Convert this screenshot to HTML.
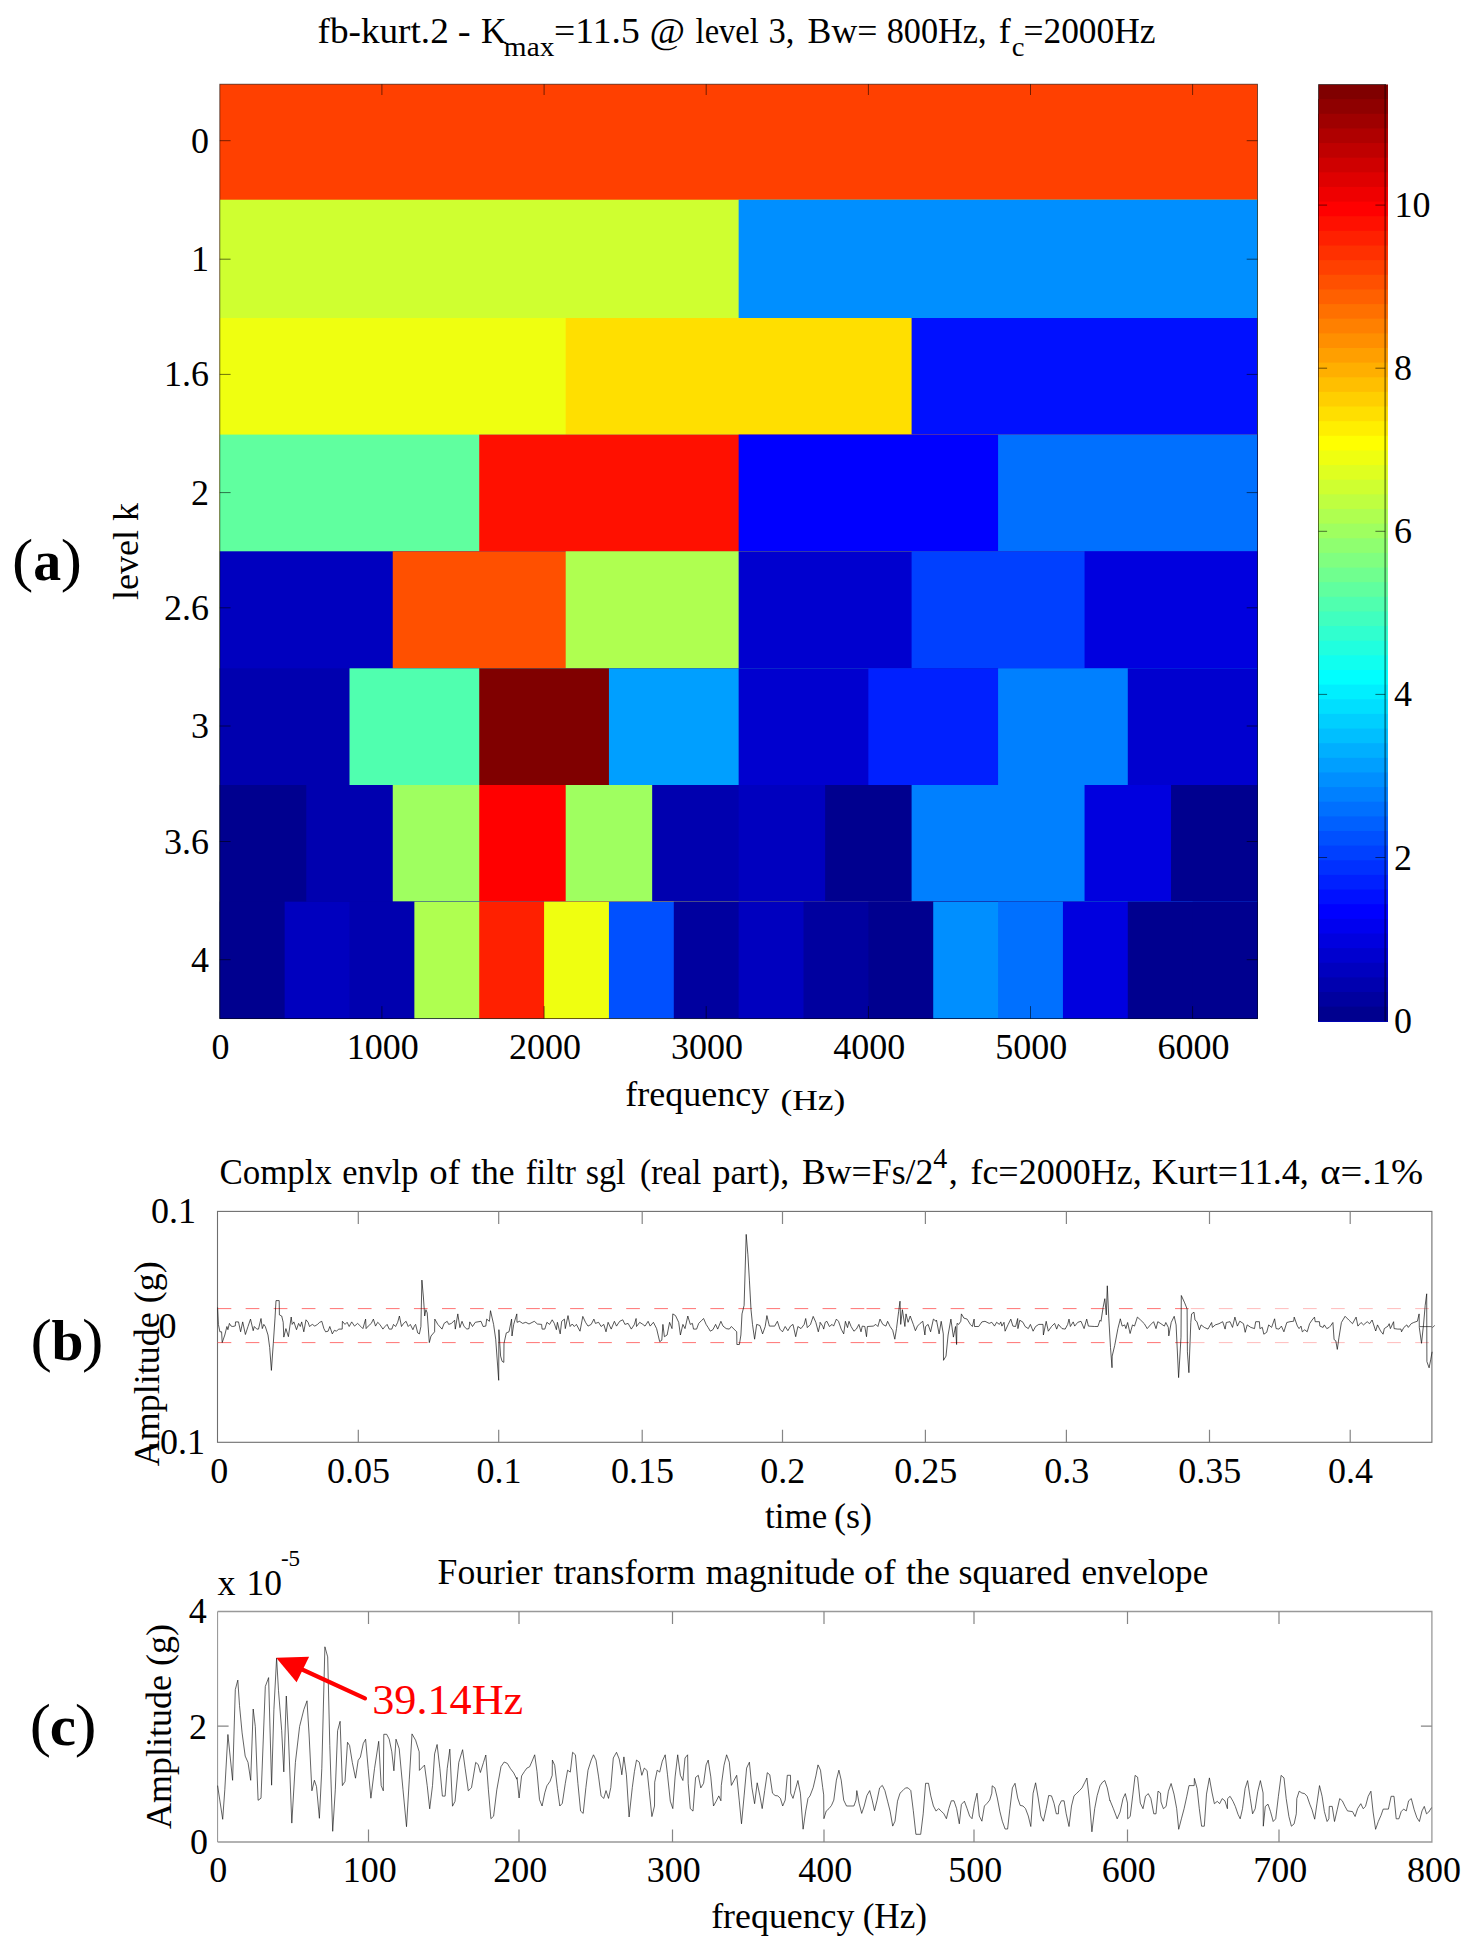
<!DOCTYPE html>
<html lang="en"><head><meta charset="utf-8"><title>Fast kurtogram</title>
<style>html,body{margin:0;padding:0;background:#fff}svg{display:block}text{font-family:"Liberation Serif","Times New Roman",serif;fill:#000}</style></head><body>
<svg width="1470" height="1953" viewBox="0 0 1470 1953">
<rect width="1470" height="1953" fill="#fff"/>
<g id="heat">
<rect x="219.80" y="84.20" width="1037.70" height="934.40" fill="#ff4000"/>
<rect x="219.80" y="199.70" width="1037.70" height="818.90" fill="#cfff30"/>
<rect x="738.65" y="199.70" width="518.85" height="818.90" fill="#008fff"/>
<rect x="219.80" y="318.00" width="1037.70" height="700.60" fill="#efff10"/>
<rect x="565.70" y="318.00" width="691.80" height="700.60" fill="#ffdf00"/>
<rect x="911.60" y="318.00" width="345.90" height="700.60" fill="#0010ff"/>
<rect x="219.80" y="434.60" width="1037.70" height="584.00" fill="#60ff9f"/>
<rect x="479.23" y="434.60" width="778.27" height="584.00" fill="#ff1000"/>
<rect x="738.65" y="434.60" width="518.85" height="584.00" fill="#0000ff"/>
<rect x="998.08" y="434.60" width="259.42" height="584.00" fill="#0070ff"/>
<rect x="219.80" y="551.30" width="1037.70" height="467.30" fill="#0000bf"/>
<rect x="392.75" y="551.30" width="864.75" height="467.30" fill="#ff5000"/>
<rect x="565.70" y="551.30" width="691.80" height="467.30" fill="#afff50"/>
<rect x="738.65" y="551.30" width="518.85" height="467.30" fill="#0000cf"/>
<rect x="911.60" y="551.30" width="345.90" height="467.30" fill="#0040ff"/>
<rect x="1084.55" y="551.30" width="172.95" height="467.30" fill="#0000df"/>
<rect x="219.80" y="668.30" width="1037.70" height="350.30" fill="#0000af"/>
<rect x="349.51" y="668.30" width="907.99" height="350.30" fill="#50ffaf"/>
<rect x="479.23" y="668.30" width="778.27" height="350.30" fill="#800000"/>
<rect x="608.94" y="668.30" width="648.56" height="350.30" fill="#009fff"/>
<rect x="738.65" y="668.30" width="518.85" height="350.30" fill="#0000cf"/>
<rect x="868.36" y="668.30" width="389.14" height="350.30" fill="#0020ff"/>
<rect x="998.08" y="668.30" width="259.42" height="350.30" fill="#0080ff"/>
<rect x="1127.79" y="668.30" width="129.71" height="350.30" fill="#0000cf"/>
<rect x="219.80" y="785.00" width="1037.70" height="233.60" fill="#00008f"/>
<rect x="306.28" y="785.00" width="951.22" height="233.60" fill="#0000af"/>
<rect x="392.75" y="785.00" width="864.75" height="233.60" fill="#9fff60"/>
<rect x="479.23" y="785.00" width="778.27" height="233.60" fill="#ff0000"/>
<rect x="565.70" y="785.00" width="691.80" height="233.60" fill="#9fff60"/>
<rect x="652.17" y="785.00" width="605.33" height="233.60" fill="#0000af"/>
<rect x="738.65" y="785.00" width="518.85" height="233.60" fill="#0000bf"/>
<rect x="825.12" y="785.00" width="432.38" height="233.60" fill="#00008f"/>
<rect x="911.60" y="785.00" width="345.90" height="233.60" fill="#0080ff"/>
<rect x="998.08" y="785.00" width="259.42" height="233.60" fill="#0080ff"/>
<rect x="1084.55" y="785.00" width="172.95" height="233.60" fill="#0000df"/>
<rect x="1171.03" y="785.00" width="86.47" height="233.60" fill="#00008f"/>
<rect x="219.80" y="901.70" width="1037.70" height="116.90" fill="#00008f"/>
<rect x="284.66" y="901.70" width="972.84" height="116.90" fill="#0000bf"/>
<rect x="349.51" y="901.70" width="907.99" height="116.90" fill="#0000af"/>
<rect x="414.37" y="901.70" width="843.13" height="116.90" fill="#afff50"/>
<rect x="479.23" y="901.70" width="778.27" height="116.90" fill="#ff2000"/>
<rect x="544.08" y="901.70" width="713.42" height="116.90" fill="#efff10"/>
<rect x="608.94" y="901.70" width="648.56" height="116.90" fill="#0050ff"/>
<rect x="673.79" y="901.70" width="583.71" height="116.90" fill="#00009f"/>
<rect x="738.65" y="901.70" width="518.85" height="116.90" fill="#0000bf"/>
<rect x="803.51" y="901.70" width="453.99" height="116.90" fill="#00009f"/>
<rect x="868.36" y="901.70" width="389.14" height="116.90" fill="#00008f"/>
<rect x="933.22" y="901.70" width="324.28" height="116.90" fill="#008fff"/>
<rect x="998.08" y="901.70" width="259.42" height="116.90" fill="#0070ff"/>
<rect x="1062.93" y="901.70" width="194.57" height="116.90" fill="#0000df"/>
<rect x="1127.79" y="901.70" width="129.71" height="116.90" fill="#00008f"/>
<rect x="1192.64" y="901.70" width="64.86" height="116.90" fill="#00008f"/>
</g>
<g stroke="#000" stroke-opacity="0.62" stroke-width="0.9" fill="none">
<rect x="219.8" y="84.2" width="1037.7" height="934.4"/>
<path d="M381.9 1018.6v-12.5M381.9 84.2v10.8"/>
<path d="M544.1 1018.6v-12.5M544.1 84.2v10.8"/>
<path d="M706.2 1018.6v-12.5M706.2 84.2v10.8"/>
<path d="M868.4 1018.6v-12.5M868.4 84.2v10.8"/>
<path d="M1030.5 1018.6v-12.5M1030.5 84.2v10.8"/>
<path d="M1192.6 1018.6v-12.5M1192.6 84.2v10.8"/>
<path d="M219.8 140.7h10.8M1257.5 140.7h-10.8"/>
<path d="M219.8 259.2h10.8M1257.5 259.2h-10.8"/>
<path d="M219.8 374.4h10.8M1257.5 374.4h-10.8"/>
<path d="M219.8 492.6h10.8M1257.5 492.6h-10.8"/>
<path d="M219.8 607.8h10.8M1257.5 607.8h-10.8"/>
<path d="M219.8 726.0h10.8M1257.5 726.0h-10.8"/>
<path d="M219.8 841.5h10.8M1257.5 841.5h-10.8"/>
<path d="M219.8 959.7h10.8M1257.5 959.7h-10.8"/>
</g>
<g id="cbar">
<rect x="1318.5" y="84.50" width="69.5" height="936.80" fill="#800000"/>
<rect x="1318.5" y="99.14" width="69.5" height="922.16" fill="#8f0000"/>
<rect x="1318.5" y="113.78" width="69.5" height="907.52" fill="#9f0000"/>
<rect x="1318.5" y="128.41" width="69.5" height="892.89" fill="#af0000"/>
<rect x="1318.5" y="143.05" width="69.5" height="878.25" fill="#bf0000"/>
<rect x="1318.5" y="157.69" width="69.5" height="863.61" fill="#cf0000"/>
<rect x="1318.5" y="172.32" width="69.5" height="848.97" fill="#df0000"/>
<rect x="1318.5" y="186.96" width="69.5" height="834.34" fill="#ef0000"/>
<rect x="1318.5" y="201.60" width="69.5" height="819.70" fill="#ff0000"/>
<rect x="1318.5" y="216.24" width="69.5" height="805.06" fill="#ff1000"/>
<rect x="1318.5" y="230.88" width="69.5" height="790.42" fill="#ff2000"/>
<rect x="1318.5" y="245.51" width="69.5" height="775.79" fill="#ff3000"/>
<rect x="1318.5" y="260.15" width="69.5" height="761.15" fill="#ff4000"/>
<rect x="1318.5" y="274.79" width="69.5" height="746.51" fill="#ff5000"/>
<rect x="1318.5" y="289.42" width="69.5" height="731.88" fill="#ff6000"/>
<rect x="1318.5" y="304.06" width="69.5" height="717.24" fill="#ff7000"/>
<rect x="1318.5" y="318.70" width="69.5" height="702.60" fill="#ff8000"/>
<rect x="1318.5" y="333.34" width="69.5" height="687.96" fill="#ff8f00"/>
<rect x="1318.5" y="347.97" width="69.5" height="673.33" fill="#ff9f00"/>
<rect x="1318.5" y="362.61" width="69.5" height="658.69" fill="#ffaf00"/>
<rect x="1318.5" y="377.25" width="69.5" height="644.05" fill="#ffbf00"/>
<rect x="1318.5" y="391.89" width="69.5" height="629.41" fill="#ffcf00"/>
<rect x="1318.5" y="406.52" width="69.5" height="614.77" fill="#ffdf00"/>
<rect x="1318.5" y="421.16" width="69.5" height="600.14" fill="#ffef00"/>
<rect x="1318.5" y="435.80" width="69.5" height="585.50" fill="#ffff00"/>
<rect x="1318.5" y="450.44" width="69.5" height="570.86" fill="#efff10"/>
<rect x="1318.5" y="465.07" width="69.5" height="556.22" fill="#dfff20"/>
<rect x="1318.5" y="479.71" width="69.5" height="541.59" fill="#cfff30"/>
<rect x="1318.5" y="494.35" width="69.5" height="526.95" fill="#bfff40"/>
<rect x="1318.5" y="508.99" width="69.5" height="512.31" fill="#afff50"/>
<rect x="1318.5" y="523.62" width="69.5" height="497.67" fill="#9fff60"/>
<rect x="1318.5" y="538.26" width="69.5" height="483.04" fill="#8fff70"/>
<rect x="1318.5" y="552.90" width="69.5" height="468.40" fill="#80ff80"/>
<rect x="1318.5" y="567.54" width="69.5" height="453.76" fill="#70ff8f"/>
<rect x="1318.5" y="582.17" width="69.5" height="439.12" fill="#60ff9f"/>
<rect x="1318.5" y="596.81" width="69.5" height="424.49" fill="#50ffaf"/>
<rect x="1318.5" y="611.45" width="69.5" height="409.85" fill="#40ffbf"/>
<rect x="1318.5" y="626.09" width="69.5" height="395.21" fill="#30ffcf"/>
<rect x="1318.5" y="640.73" width="69.5" height="380.57" fill="#20ffdf"/>
<rect x="1318.5" y="655.36" width="69.5" height="365.94" fill="#10ffef"/>
<rect x="1318.5" y="670.00" width="69.5" height="351.30" fill="#00ffff"/>
<rect x="1318.5" y="684.64" width="69.5" height="336.66" fill="#00efff"/>
<rect x="1318.5" y="699.27" width="69.5" height="322.02" fill="#00dfff"/>
<rect x="1318.5" y="713.91" width="69.5" height="307.39" fill="#00cfff"/>
<rect x="1318.5" y="728.55" width="69.5" height="292.75" fill="#00bfff"/>
<rect x="1318.5" y="743.19" width="69.5" height="278.11" fill="#00afff"/>
<rect x="1318.5" y="757.82" width="69.5" height="263.48" fill="#009fff"/>
<rect x="1318.5" y="772.46" width="69.5" height="248.84" fill="#008fff"/>
<rect x="1318.5" y="787.10" width="69.5" height="234.20" fill="#0080ff"/>
<rect x="1318.5" y="801.74" width="69.5" height="219.56" fill="#0070ff"/>
<rect x="1318.5" y="816.38" width="69.5" height="204.92" fill="#0060ff"/>
<rect x="1318.5" y="831.01" width="69.5" height="190.29" fill="#0050ff"/>
<rect x="1318.5" y="845.65" width="69.5" height="175.65" fill="#0040ff"/>
<rect x="1318.5" y="860.29" width="69.5" height="161.01" fill="#0030ff"/>
<rect x="1318.5" y="874.92" width="69.5" height="146.38" fill="#0020ff"/>
<rect x="1318.5" y="889.56" width="69.5" height="131.74" fill="#0010ff"/>
<rect x="1318.5" y="904.20" width="69.5" height="117.10" fill="#0000ff"/>
<rect x="1318.5" y="918.84" width="69.5" height="102.46" fill="#0000ef"/>
<rect x="1318.5" y="933.47" width="69.5" height="87.83" fill="#0000df"/>
<rect x="1318.5" y="948.11" width="69.5" height="73.19" fill="#0000cf"/>
<rect x="1318.5" y="962.75" width="69.5" height="58.55" fill="#0000bf"/>
<rect x="1318.5" y="977.39" width="69.5" height="43.91" fill="#0000af"/>
<rect x="1318.5" y="992.02" width="69.5" height="29.27" fill="#00009f"/>
<rect x="1318.5" y="1006.66" width="69.5" height="14.64" fill="#00008f"/>
</g>
<g stroke="#000" stroke-opacity="0.62" stroke-width="0.9" fill="none">
<path d="M1318.5 1021.3V84.5H1386.0"/>
<path d="M1385.2 84.5V1021.3" stroke-width="1.8" stroke-opacity="0.4"/>
<path d="M1318.5 857.5h8.6M1385.2 857.5h-9.8"/>
<path d="M1318.5 694.4h8.6M1385.2 694.4h-9.8"/>
<path d="M1318.5 531.3h8.6M1385.2 531.3h-9.8"/>
<path d="M1318.5 368.2h8.6M1385.2 368.2h-9.8"/>
<path d="M1318.5 205.1h8.6M1385.2 205.1h-9.8"/>
</g>
<text x="209.0" y="152.7" font-size="36" text-anchor="end">0</text>
<text x="209.0" y="271.2" font-size="36" text-anchor="end">1</text>
<text x="209.0" y="386.4" font-size="36" text-anchor="end">1.6</text>
<text x="209.0" y="504.6" font-size="36" text-anchor="end">2</text>
<text x="209.0" y="619.8" font-size="36" text-anchor="end">2.6</text>
<text x="209.0" y="738.0" font-size="36" text-anchor="end">3</text>
<text x="209.0" y="853.5" font-size="36" text-anchor="end">3.6</text>
<text x="209.0" y="971.7" font-size="36" text-anchor="end">4</text>
<text x="220.6" y="1059.0" font-size="36" text-anchor="middle">0</text>
<text x="382.7" y="1059.0" font-size="36" text-anchor="middle">1000</text>
<text x="544.9" y="1059.0" font-size="36" text-anchor="middle">2000</text>
<text x="707.0" y="1059.0" font-size="36" text-anchor="middle">3000</text>
<text x="869.2" y="1059.0" font-size="36" text-anchor="middle">4000</text>
<text x="1031.3" y="1059.0" font-size="36" text-anchor="middle">5000</text>
<text x="1193.4" y="1059.0" font-size="36" text-anchor="middle">6000</text>
<text transform="translate(137.7 551.5) rotate(-90)" font-size="36" text-anchor="middle">level k</text>
<text x="1394.0" y="1032.6" font-size="36" text-anchor="start">0</text>
<text x="1394.0" y="869.5" font-size="36" text-anchor="start">2</text>
<text x="1394.0" y="706.4" font-size="36" text-anchor="start">4</text>
<text x="1394.0" y="543.3" font-size="36" text-anchor="start">6</text>
<text x="1394.0" y="380.2" font-size="36" text-anchor="start">8</text>
<text x="1394.4" y="217.1" font-size="36" text-anchor="start">10</text>
<rect x="217.5" y="1211.4" width="1214.4" height="230.9" stroke="#6e6e6e" stroke-width="1.1" fill="none"/>
<g stroke="#858585" stroke-width="1.2" fill="none">
<path d="M358.3 1211.4v12.5M358.3 1442.3v-12.5"/>
<path d="M498.7 1211.4v12.5M498.7 1442.3v-12.5"/>
<path d="M642.2 1211.4v12.5M642.2 1442.3v-12.5"/>
<path d="M782.5 1211.4v12.5M782.5 1442.3v-12.5"/>
<path d="M925.4 1211.4v12.5M925.4 1442.3v-12.5"/>
<path d="M1066.4 1211.4v12.5M1066.4 1442.3v-12.5"/>
<path d="M1209.5 1211.4v12.5M1209.5 1442.3v-12.5"/>
<path d="M1350.2 1211.4v12.5M1350.2 1442.3v-12.5"/>
</g>
<path d="M1419.8 1326.6H1431.5M1432.4 1327.6L1434.8 1325.4" stroke="#222" stroke-width="0.7" fill="none"/>
<path d="M217.60 1308.6H541.60" stroke="#ff6464" stroke-width="0.9" stroke-dasharray="13.7 14.35" fill="none"/>
<path d="M542.05 1308.6H866.10" stroke="#ff6464" stroke-width="0.9" stroke-dasharray="13.7 14.35" fill="none"/>
<path d="M866.50 1308.6H1190.30" stroke="#ff6464" stroke-width="0.9" stroke-dasharray="13.7 14.35" fill="none"/>
<path d="M1190.80 1308.6H1432.00" stroke="#ffb4b4" stroke-width="0.9" stroke-dasharray="13.7 14.35" fill="none"/>
<path d="M217.60 1342.6H541.60" stroke="#ff6464" stroke-width="0.9" stroke-dasharray="13.7 14.35" fill="none"/>
<path d="M542.05 1342.6H866.10" stroke="#ff6464" stroke-width="0.9" stroke-dasharray="13.7 14.35" fill="none"/>
<path d="M866.50 1342.6H1190.30" stroke="#ff6464" stroke-width="0.9" stroke-dasharray="13.7 14.35" fill="none"/>
<path d="M1190.80 1342.6H1432.00" stroke="#ffb4b4" stroke-width="0.9" stroke-dasharray="13.7 14.35" fill="none"/>
<polyline fill="none" stroke="#111" stroke-width="0.7" stroke-linejoin="round" points="217.6,1307.5 218.4,1324.4 219.9,1331.8 221.6,1331.8 222.2,1342.6 224.8,1335.0 226.9,1326.5 227.9,1329.7 229.4,1323.4 231.1,1326.1 232.8,1326.5 235.3,1325.9 235.5,1321.9 238.5,1321.9 240.6,1331.8 242.7,1321.9 245.4,1334.5 248.0,1326.5 250.5,1319.1 253.2,1330.7 254.3,1326.5 256.8,1329.1 258.5,1329.1 261.0,1318.5 262.3,1328.6 263.8,1324.4 265.3,1326.5 268.0,1335.0 269.7,1347.6 271.4,1370.4 273.3,1343.4 275.0,1318.1 276.0,1300.6 279.2,1300.6 279.4,1314.9 281.7,1316.0 283.2,1322.3 283.8,1337.1 285.9,1328.6 288.4,1336.7 291.2,1317.0 292.2,1324.4 293.9,1321.9 296.5,1329.7 298.6,1323.4 300.3,1326.5 301.7,1321.9 303.8,1331.8 306.0,1319.8 308.1,1322.3 309.5,1326.5 312.3,1324.4 314.8,1326.1 317.5,1324.4 319.7,1322.3 321.8,1321.3 323.9,1328.6 325.6,1331.8 328.1,1331.2 329.8,1326.5 332.3,1333.9 334.4,1330.3 336.5,1331.2 338.6,1329.1 342.2,1329.1 342.4,1321.3 345.0,1324.4 347.1,1322.3 349.2,1326.5 351.7,1321.9 354.5,1326.1 357.6,1323.4 360.8,1326.5 362.9,1328.6 365.6,1319.1 366.1,1328.6 368.2,1326.1 371.3,1323.4 373.4,1319.1 375.5,1326.1 377.7,1322.3 379.8,1324.4 382.9,1329.1 385.0,1326.5 387.1,1324.4 389.2,1329.1 391.8,1329.1 393.5,1324.4 395.6,1326.5 397.7,1322.3 399.4,1316.0 401.5,1326.5 403.6,1323.4 406.1,1321.3 408.2,1326.5 410.3,1324.4 412.9,1329.7 414.6,1325.5 415.6,1324.4 417.7,1332.9 419.4,1333.9 420.9,1326.5 421.9,1280.1 423.4,1297.0 424.7,1316.0 425.9,1309.7 427.2,1312.8 429.3,1342.6 431.0,1336.0 434.6,1331.8 434.8,1319.1 437.8,1324.4 442.0,1329.1 444.1,1323.4 447.2,1321.3 448.7,1324.4 451.5,1323.4 454.6,1320.2 455.3,1329.1 457.8,1313.9 459.9,1327.6 462.0,1321.3 464.1,1326.5 466.9,1329.1 469.0,1328.6 469.8,1321.9 472.5,1326.5 475.3,1322.3 481.0,1321.3 483.1,1326.5 485.8,1326.1 486.7,1319.1 489.4,1321.3 490.5,1310.7 493.6,1324.4 495.7,1339.2 498.7,1380.3 498.9,1329.7 500.6,1356.1 502.1,1361.3 503.8,1362.4 504.0,1343.4 506.3,1332.9 509.0,1331.8 511.6,1319.1 512.0,1336.0 513.7,1324.4 516.8,1313.9 517.0,1322.3 519.6,1321.3 519.5,1321.3 522.7,1323.4 525.8,1322.3 529.0,1324.0 534.3,1321.3 537.4,1324.0 541.6,1324.4 542.1,1329.1 544.8,1329.1 546.9,1322.3 549.6,1324.4 552.2,1319.8 554.3,1323.4 556.4,1329.7 557.4,1322.3 560.2,1333.9 561.7,1321.3 564.4,1319.1 565.3,1328.6 568.0,1315.6 570.1,1326.5 572.2,1324.0 574.3,1326.5 576.4,1324.4 580.0,1331.2 582.8,1316.4 585.5,1322.3 588.0,1326.1 591.2,1324.4 593.9,1319.1 595.4,1323.4 598.6,1322.3 601.1,1326.5 603.8,1324.4 606.0,1331.8 608.1,1322.3 611.2,1329.1 614.4,1321.3 616.5,1326.1 619.7,1321.3 622.8,1319.8 624.9,1324.4 628.1,1323.4 631.3,1329.1 634.4,1324.4 636.1,1318.5 636.5,1326.5 639.7,1322.3 642.9,1324.4 645.0,1326.1 648.1,1321.3 650.2,1326.1 653.4,1322.3 656.6,1328.6 659.7,1341.7 661.8,1340.2 662.9,1324.4 664.4,1336.7 667.1,1335.0 669.6,1322.3 672.0,1328.6 672.8,1313.9 675.5,1315.6 678.7,1322.3 680.4,1335.0 682.9,1324.4 685.0,1328.6 687.8,1316.0 690.3,1324.4 692.4,1323.4 693.5,1329.1 696.6,1329.1 698.7,1323.4 701.9,1320.2 703.6,1318.5 706.1,1324.4 708.2,1327.6 710.3,1331.2 712.9,1329.7 715.6,1324.4 717.7,1329.1 720.9,1321.3 723.0,1326.1 726.2,1328.6 729.3,1329.1 731.4,1326.5 736.7,1331.8 736.9,1344.5 739.4,1344.5 740.9,1335.0 742.0,1313.9 744.1,1305.4 746.2,1234.4 747.9,1254.8 749.4,1280.1 751.0,1309.7 752.5,1324.4 754.6,1339.2 756.7,1324.4 759.9,1325.5 762.6,1333.9 765.2,1326.5 766.9,1315.6 769.4,1326.1 774.7,1326.1 777.4,1321.3 779.9,1329.1 782.5,1331.8 785.2,1326.5 787.9,1330.7 790.5,1326.1 793.0,1324.4 795.7,1336.7 797.9,1326.5 801.0,1328.6 804.2,1324.4 805.7,1318.5 807.3,1327.6 810.5,1324.4 813.2,1316.4 815.8,1322.3 818.3,1331.8 820.0,1324.4 820.1,1322.3 822.7,1326.1 823.7,1329.1 825.2,1322.3 826.9,1321.3 829.4,1326.5 832.1,1324.4 833.6,1326.1 836.4,1319.1 838.5,1321.3 841.2,1329.1 843.7,1333.9 845.4,1321.3 847.5,1327.6 849.0,1321.3 851.1,1326.5 853.9,1331.2 856.4,1329.1 858.9,1324.4 861.0,1331.8 862.3,1326.1 864.8,1326.5 866.5,1336.7 867.4,1326.5 873.3,1326.1 875.8,1324.4 877.9,1326.5 880.0,1319.1 882.8,1324.4 885.9,1326.1 887.6,1321.3 890.1,1326.5 892.7,1330.3 894.8,1339.2 896.5,1328.6 898.6,1311.8 900.0,1301.2 900.7,1324.4 902.4,1309.7 904.9,1326.5 906.0,1313.9 908.1,1322.3 910.2,1316.0 913.3,1324.4 915.4,1330.7 917.5,1326.1 920.1,1323.4 922.8,1321.3 924.9,1335.0 925.6,1326.5 928.1,1324.4 930.6,1331.8 933.4,1319.1 936.1,1321.3 936.5,1320.2 939.1,1333.9 941.2,1321.3 943.3,1333.9 943.5,1360.3 946.0,1356.1 948.1,1335.0 950.9,1319.1 953.4,1337.1 955.5,1326.5 956.6,1344.5 957.0,1323.4 958.7,1324.4 960.8,1321.3 961.4,1313.9 963.9,1318.1 967.1,1319.1 970.3,1324.4 972.4,1326.5 974.1,1319.1 974.5,1326.5 978.7,1326.5 981.9,1321.9 985.0,1321.3 989.2,1323.4 991.8,1322.3 994.5,1326.1 996.6,1322.3 999.4,1324.4 1000.8,1321.9 1001.9,1326.1 1004.0,1322.3 1005.1,1331.2 1008.2,1324.4 1010.8,1319.1 1012.9,1326.1 1015.6,1326.5 1017.7,1318.5 1017.9,1328.6 1019.8,1320.2 1023.0,1322.3 1025.1,1326.5 1028.3,1328.6 1030.4,1324.4 1033.1,1331.2 1035.6,1326.5 1038.8,1324.4 1043.0,1324.4 1043.4,1335.0 1046.2,1321.3 1048.3,1331.2 1051.5,1326.5 1054.6,1323.4 1056.7,1329.1 1058.4,1324.4 1062.0,1328.6 1065.2,1329.1 1067.7,1324.4 1069.0,1319.1 1070.4,1326.5 1073.2,1321.9 1074.7,1326.1 1077.8,1322.3 1081.0,1321.3 1084.1,1328.6 1086.7,1319.1 1088.4,1326.1 1094.7,1326.5 1097.9,1326.5 1100.0,1320.2 1101.0,1321.3 1103.1,1307.5 1104.8,1298.7 1106.3,1314.9 1107.3,1285.8 1108.8,1318.1 1110.5,1347.6 1112.0,1367.7 1112.2,1356.1 1114.7,1345.5 1117.9,1328.6 1120.0,1320.2 1120.3,1318.8 1122.2,1326.1 1124.7,1324.9 1125.9,1328.6 1127.6,1322.5 1130.1,1333.5 1132.5,1324.9 1134.5,1326.1 1137.4,1317.1 1140.6,1320.0 1144.3,1323.7 1147.2,1328.6 1150.4,1324.9 1153.6,1321.7 1156.0,1328.6 1157.8,1321.7 1160.9,1323.7 1164.4,1326.1 1165.8,1322.5 1168.3,1327.4 1168.8,1335.9 1171.2,1322.5 1174.2,1316.3 1176.1,1324.9 1178.6,1377.6 1181.0,1337.2 1181.3,1295.5 1184.7,1302.9 1187.1,1309.0 1187.4,1351.8 1188.9,1372.7 1190.8,1322.5 1191.6,1313.9 1194.0,1312.2 1195.0,1320.0 1196.9,1321.7 1199.4,1329.8 1201.1,1324.9 1204.3,1327.4 1208.0,1329.1 1211.6,1322.5 1212.4,1327.4 1215.3,1324.9 1219.0,1323.7 1222.7,1321.7 1225.1,1329.1 1226.3,1322.5 1230.0,1321.7 1232.5,1327.4 1234.9,1317.1 1237.4,1326.1 1239.8,1321.2 1243.5,1323.7 1245.2,1332.3 1247.2,1324.9 1250.8,1327.4 1254.5,1328.6 1255.7,1321.7 1259.4,1321.7 1259.9,1328.6 1262.3,1327.4 1263.8,1334.2 1266.7,1332.3 1268.7,1324.9 1271.6,1327.4 1274.6,1318.8 1276.1,1328.6 1279.0,1329.1 1281.4,1326.1 1283.9,1331.8 1286.8,1322.5 1290.0,1321.7 1293.7,1321.2 1294.2,1317.1 1297.4,1326.1 1299.1,1328.6 1301.0,1326.1 1302.3,1331.8 1304.7,1329.8 1307.2,1331.8 1309.6,1323.7 1312.1,1320.0 1314.5,1317.1 1315.2,1321.7 1319.4,1321.7 1319.9,1326.1 1323.1,1327.4 1324.3,1324.9 1326.8,1328.6 1329.2,1327.4 1330.4,1326.1 1332.9,1322.5 1334.1,1339.6 1335.8,1340.8 1337.3,1349.4 1339.0,1337.2 1341.4,1322.5 1345.1,1316.3 1348.8,1320.0 1352.5,1323.7 1356.1,1317.1 1357.9,1326.1 1361.0,1322.5 1363.5,1324.9 1367.2,1321.7 1369.6,1323.7 1372.1,1320.0 1375.7,1331.0 1377.5,1324.9 1380.6,1331.0 1383.1,1334.2 1384.3,1328.6 1388.0,1326.1 1389.2,1323.7 1390.4,1328.6 1393.6,1321.7 1394.1,1328.6 1397.8,1329.1 1401.0,1329.1 1401.5,1331.8 1403.9,1327.4 1406.8,1324.9 1408.3,1327.4 1411.2,1323.7 1413.7,1322.5 1417.4,1321.2 1419.1,1313.9 1419.3,1327.4 1421.5,1343.3 1423.5,1324.9 1425.2,1305.3 1426.7,1293.8 1426.9,1361.6 1429.1,1367.8 1430.8,1359.2 1432.1,1351.8"/>
<text x="219.2" y="1482.5" font-size="36" text-anchor="middle">0</text>
<text x="358.6" y="1482.5" font-size="36" text-anchor="middle">0.05</text>
<text x="499.0" y="1482.5" font-size="36" text-anchor="middle">0.1</text>
<text x="642.5" y="1482.5" font-size="36" text-anchor="middle">0.15</text>
<text x="782.8" y="1482.5" font-size="36" text-anchor="middle">0.2</text>
<text x="925.7" y="1482.5" font-size="36" text-anchor="middle">0.25</text>
<text x="1066.7" y="1482.5" font-size="36" text-anchor="middle">0.3</text>
<text x="1209.8" y="1482.5" font-size="36" text-anchor="middle">0.35</text>
<text x="1350.5" y="1482.5" font-size="36" text-anchor="middle">0.4</text>
<text x="151.0" y="1222.6" font-size="36" text-anchor="start">0.1</text>
<text x="158.5" y="1338.2" font-size="36" text-anchor="start">0</text>
<text x="205.0" y="1453.7" font-size="36" text-anchor="end">-0.1</text>
<text transform="translate(159.2 1363.8) rotate(-90)" font-size="36" text-anchor="middle">Amplitude (g)</text>
<path d="M217.6 1611.5V1842.0" stroke="#858585" stroke-width="0.9" fill="none"/>
<path d="M217.6 1611.5H1431.9V1842.0H217.6" stroke="#999" stroke-width="1.3" fill="none"/>
<g stroke="#858585" stroke-width="1.2" fill="none">
<path d="M368.5 1611.5v12.5M368.5 1842.0v-12.5"/>
<path d="M519.0 1611.5v12.5M519.0 1842.0v-12.5"/>
<path d="M672.5 1611.5v12.5M672.5 1842.0v-12.5"/>
<path d="M824.0 1611.5v12.5M824.0 1842.0v-12.5"/>
<path d="M974.0 1611.5v12.5M974.0 1842.0v-12.5"/>
<path d="M1127.5 1611.5v12.5M1127.5 1842.0v-12.5"/>
<path d="M1279.0 1611.5v12.5M1279.0 1842.0v-12.5"/>
<path d="M217.6 1726.2h11M1431.9 1726.2h-11"/>
</g>
<polyline fill="none" stroke="#1a1a1a" stroke-width="0.68" stroke-linejoin="round" points="217.6,1785.6 222.7,1819.3 224.8,1789.8 227.9,1734.5 232.6,1780.3 235.3,1689.6 237.8,1680.1 239.5,1705.4 242.1,1732.9 245.2,1756.1 248.0,1762.4 250.7,1780.3 253.2,1709.0 255.3,1726.5 258.1,1800.3 261.0,1798.2 265.3,1686.5 268.6,1677.6 271.6,1785.2 273.9,1709.7 276.6,1658.0 278.5,1690.7 281.7,1730.7 283.8,1771.9 286.3,1696.0 288.4,1735.0 291.8,1823.1 295.4,1762.4 299.6,1726.5 303.8,1709.7 307.0,1700.8 309.1,1735.0 311.9,1790.8 314.4,1780.3 316.5,1786.6 319.4,1818.3 321.8,1768.7 324.9,1646.8 327.7,1656.9 329.8,1745.5 332.7,1831.3 335.3,1789.8 337.6,1730.7 340.1,1721.3 342.4,1785.6 345.0,1781.4 347.5,1742.3 349.6,1745.5 352.3,1762.4 355.5,1778.2 358.2,1760.3 360.4,1757.1 363.3,1743.4 365.6,1739.2 368.2,1768.7 370.9,1798.2 374.5,1768.7 378.7,1741.3 381.2,1785.6 383.3,1790.8 383.8,1734.3 386.7,1734.3 389.2,1739.2 391.8,1751.8 393.9,1770.8 396.0,1739.2 399.2,1748.7 403.0,1789.8 406.5,1826.7 409.3,1779.2 412.0,1733.9 415.6,1740.2 419.2,1751.8 419.4,1770.4 424.5,1765.1 427.2,1785.6 429.7,1808.8 432.5,1785.6 434.6,1753.9 437.1,1744.5 439.9,1768.7 442.4,1796.1 445.1,1796.1 447.2,1768.7 449.8,1749.1 452.5,1806.2 455.0,1801.4 458.8,1762.4 462.6,1749.7 465.2,1768.7 468.3,1790.8 471.5,1787.7 475.7,1762.4 478.2,1764.5 480.4,1772.5 483.5,1762.4 485.8,1755.0 488.4,1789.8 490.9,1818.7 493.6,1816.2 496.8,1789.8 501.0,1766.6 504.2,1762.0 507.3,1763.4 510.5,1768.7 513.7,1772.9 516.8,1779.2 517.0,1777.4 519.1,1798.0 521.6,1775.9 524.3,1771.7 526.9,1768.1 529.6,1766.8 532.1,1761.1 534.7,1754.8 537.0,1771.7 539.5,1799.7 542.1,1806.0 544.8,1792.8 546.9,1785.8 550.1,1781.2 552.2,1775.3 552.4,1760.1 554.7,1765.3 557.4,1788.5 559.8,1806.0 562.3,1803.3 565.3,1783.3 567.6,1770.2 570.3,1772.1 572.6,1752.3 575.4,1754.8 577.9,1783.3 580.6,1811.1 583.2,1813.4 585.9,1787.5 588.0,1770.2 591.2,1760.1 593.5,1754.8 596.0,1760.1 598.6,1776.9 601.1,1795.9 603.8,1798.4 606.0,1790.6 608.5,1798.4 610.8,1787.5 613.3,1758.0 616.5,1752.3 619.2,1759.0 621.3,1770.6 621.8,1774.8 623.9,1756.9 626.4,1774.8 629.1,1817.0 632.3,1787.5 634.4,1771.7 636.5,1760.1 639.3,1762.2 641.8,1775.3 644.3,1768.1 647.1,1770.6 649.2,1790.6 651.9,1816.6 654.5,1806.0 654.7,1782.2 657.2,1770.2 659.7,1772.1 662.3,1761.1 665.2,1754.8 667.5,1774.8 670.3,1801.2 672.8,1808.6 675.1,1776.9 677.7,1754.8 680.4,1775.3 682.9,1780.5 685.0,1758.0 687.6,1754.8 688.2,1783.3 690.3,1808.6 693.0,1811.1 695.6,1777.4 698.3,1775.3 700.8,1787.9 703.6,1783.3 706.1,1764.9 708.2,1760.1 710.8,1776.9 713.5,1806.0 716.2,1801.2 718.8,1795.9 720.9,1800.8 721.3,1785.4 724.0,1765.3 726.6,1754.8 729.3,1762.2 731.4,1785.4 734.2,1780.1 736.7,1775.3 739.2,1800.1 741.5,1823.8 744.1,1795.9 746.6,1768.1 749.4,1762.2 751.9,1787.5 754.6,1803.7 757.2,1782.8 759.9,1795.9 762.2,1808.6 764.7,1790.6 767.3,1772.7 769.8,1774.8 772.5,1793.2 775.1,1795.5 777.8,1795.9 780.4,1798.4 782.7,1806.0 785.2,1800.1 787.3,1775.3 790.5,1775.3 790.7,1793.2 793.0,1798.4 795.1,1790.6 797.9,1780.5 800.4,1793.2 803.1,1829.2 805.7,1811.1 808.0,1798.4 810.0,1795.9 813.2,1787.5 815.9,1775.9 818.0,1764.9 820.5,1770.2 822.7,1787.5 823.7,1794.9 823.9,1818.7 826.2,1811.1 829.0,1808.6 831.5,1805.4 833.8,1800.1 836.4,1780.1 838.9,1770.2 841.2,1780.1 843.7,1800.1 846.5,1806.0 850.1,1806.0 853.9,1806.0 856.0,1800.1 856.8,1790.6 859.1,1803.3 861.7,1813.4 864.2,1806.0 866.9,1795.5 869.7,1790.6 872.2,1800.1 874.5,1810.7 877.1,1800.1 879.6,1787.9 882.3,1785.4 884.9,1790.6 887.6,1801.2 890.1,1811.1 892.7,1826.1 895.0,1821.2 897.5,1801.2 900.0,1793.2 902.8,1790.6 905.5,1787.9 908.1,1787.9 910.8,1790.6 913.3,1810.7 915.9,1834.3 920.7,1834.3 923.2,1813.8 925.6,1783.3 928.5,1783.3 930.8,1795.9 933.4,1806.0 936.1,1811.1 938.6,1808.6 941.2,1811.1 943.9,1813.8 946.4,1818.7 948.8,1808.6 951.3,1800.8 954.0,1800.8 956.6,1808.6 959.3,1823.8 961.4,1804.4 964.4,1801.2 967.1,1808.6 969.6,1816.0 972.0,1818.7 974.5,1803.3 977.0,1793.2 979.3,1816.0 981.9,1821.2 984.4,1806.0 987.1,1803.3 989.7,1800.1 991.8,1793.2 992.2,1785.8 994.9,1787.9 997.3,1798.0 999.8,1811.1 1002.3,1821.2 1005.1,1829.0 1007.6,1829.0 1009.9,1808.6 1012.4,1787.9 1015.0,1783.3 1017.7,1798.0 1020.2,1805.4 1023.0,1806.0 1025.5,1808.6 1028.3,1816.0 1030.8,1826.5 1033.1,1793.2 1035.6,1782.8 1038.2,1798.0 1040.9,1816.0 1043.4,1821.2 1046.2,1808.6 1048.7,1795.5 1051.5,1795.9 1054.0,1803.3 1056.3,1813.8 1058.4,1813.8 1058.8,1806.0 1061.4,1800.8 1064.1,1800.8 1066.2,1813.8 1069.0,1826.5 1071.5,1806.0 1074.0,1795.9 1076.8,1793.2 1079.5,1790.6 1082.0,1787.9 1084.6,1782.8 1086.9,1778.0 1089.4,1800.1 1091.9,1831.8 1094.7,1808.6 1097.2,1795.5 1100.0,1785.8 1102.5,1782.2 1104.8,1780.5 1107.3,1787.9 1109.9,1800.8 1110.0,1800.4 1113.4,1808.7 1117.2,1818.8 1120.1,1812.0 1123.0,1798.6 1125.3,1793.6 1127.5,1803.1 1127.7,1818.8 1130.2,1816.5 1132.9,1794.1 1135.1,1775.4 1137.6,1777.2 1140.3,1803.1 1143.0,1808.7 1145.5,1796.3 1148.2,1793.6 1150.9,1798.6 1153.8,1813.8 1156.0,1813.8 1158.0,1791.2 1160.5,1793.0 1161.0,1801.9 1163.4,1808.7 1166.1,1806.4 1168.4,1791.2 1171.1,1783.5 1174.0,1794.1 1176.7,1808.7 1178.7,1829.3 1181.4,1818.8 1184.1,1808.7 1186.8,1796.3 1189.0,1785.6 1194.2,1785.6 1194.4,1778.4 1197.1,1788.5 1199.3,1808.7 1201.6,1826.2 1204.3,1826.2 1206.5,1794.1 1209.4,1777.9 1212.1,1793.0 1214.4,1803.7 1217.3,1801.3 1219.6,1803.7 1222.2,1798.6 1224.9,1800.8 1227.4,1808.7 1227.6,1798.6 1230.1,1796.3 1233.0,1801.3 1235.3,1806.4 1238.0,1814.3 1240.2,1818.8 1242.5,1808.7 1245.1,1788.5 1247.6,1780.6 1250.3,1798.6 1252.6,1813.8 1255.2,1808.7 1257.7,1791.8 1260.4,1780.6 1263.1,1793.0 1263.3,1826.2 1265.3,1806.4 1268.0,1804.2 1270.5,1811.6 1273.2,1821.5 1275.7,1818.8 1278.4,1796.3 1281.1,1775.4 1284.0,1777.9 1286.2,1798.6 1288.9,1816.5 1291.4,1826.2 1294.1,1823.9 1296.3,1813.8 1296.8,1798.6 1299.2,1791.2 1301.9,1793.0 1304.6,1793.6 1307.1,1796.3 1309.8,1804.2 1312.0,1809.8 1314.7,1819.2 1317.0,1803.1 1319.5,1785.6 1322.1,1796.3 1324.4,1811.6 1327.1,1821.5 1328.9,1818.8 1329.3,1806.4 1332.2,1806.4 1334.5,1821.5 1337.2,1809.8 1339.7,1798.6 1342.3,1800.8 1345.0,1806.4 1347.5,1810.9 1352.5,1811.6 1355.1,1816.5 1357.6,1808.7 1360.8,1803.7 1363.2,1808.7 1365.5,1806.4 1368.2,1796.3 1370.9,1791.2 1373.1,1812.0 1375.6,1829.3 1378.3,1821.5 1381.0,1815.4 1383.2,1809.1 1388.4,1809.1 1391.1,1796.3 1394.0,1796.3 1396.2,1818.8 1398.9,1818.8 1401.2,1811.6 1403.6,1809.1 1406.3,1810.9 1408.6,1800.8 1411.3,1798.6 1414.2,1809.8 1416.9,1817.7 1419.4,1821.5 1422.0,1810.9 1424.3,1806.4 1426.5,1813.8 1428.8,1812.0 1431.5,1807.6"/>
<path d="M365 1698.3L300 1668.5" stroke="#f00" stroke-width="4.2" stroke-linecap="round" fill="none"/>
<path d="M276.2 1657.7L309.1 1656.8L296.6 1682.3Z" fill="#f00"/>
<text x="218.2" y="1882.0" font-size="36" text-anchor="middle">0</text>
<text x="369.7" y="1882.0" font-size="36" text-anchor="middle">100</text>
<text x="520.2" y="1882.0" font-size="36" text-anchor="middle">200</text>
<text x="673.7" y="1882.0" font-size="36" text-anchor="middle">300</text>
<text x="825.2" y="1882.0" font-size="36" text-anchor="middle">400</text>
<text x="975.2" y="1882.0" font-size="36" text-anchor="middle">500</text>
<text x="1128.7" y="1882.0" font-size="36" text-anchor="middle">600</text>
<text x="1280.2" y="1882.0" font-size="36" text-anchor="middle">700</text>
<text x="1434.0" y="1882.0" font-size="36" text-anchor="middle">800</text>
<text x="206.8" y="1623.4" font-size="36" text-anchor="end">4</text>
<text x="207.0" y="1738.6" font-size="36" text-anchor="end">2</text>
<text x="208.0" y="1854.0" font-size="36" text-anchor="end">0</text>
<text transform="translate(171.4 1726.5) rotate(-90)" font-size="36" text-anchor="middle">Amplitude (g)</text>
<text><tspan x="317.57" y="42.8" font-size="36" textLength="131.17" lengthAdjust="spacingAndGlyphs">fb-kurt.2</tspan> <tspan x="457.66" y="42.8" font-size="36" textLength="12.88" lengthAdjust="spacingAndGlyphs">-</tspan> <tspan x="480.91" y="42.8" font-size="36" textLength="25.63" lengthAdjust="spacingAndGlyphs">K</tspan><tspan x="503.88" y="56.0" font-size="28" textLength="50.41" lengthAdjust="spacingAndGlyphs">max</tspan><tspan x="554.07" y="42.8" font-size="36" textLength="85.66" lengthAdjust="spacingAndGlyphs">=11.5</tspan> <tspan x="649.55" y="42.8" font-size="36" textLength="35.59" lengthAdjust="spacingAndGlyphs">@</tspan> <tspan x="695.62" y="42.8" font-size="36" textLength="63.23" lengthAdjust="spacingAndGlyphs">level</tspan> <tspan x="768.42" y="42.8" font-size="36" textLength="25.94" lengthAdjust="spacingAndGlyphs">3,</tspan> <tspan x="807.61" y="42.8" font-size="36" textLength="69.79" lengthAdjust="spacingAndGlyphs">Bw=</tspan> <tspan x="886.77" y="42.8" font-size="36" textLength="99.75" lengthAdjust="spacingAndGlyphs">800Hz,</tspan> <tspan x="998.70" y="42.8" font-size="36">f</tspan><tspan x="1011.67" y="56.0" font-size="28" textLength="12.79" lengthAdjust="spacingAndGlyphs">c</tspan><tspan x="1023.48" y="42.8" font-size="36" textLength="132.03" lengthAdjust="spacingAndGlyphs">=2000Hz</tspan></text>
<text><tspan x="625.30" y="1105.7" font-size="36">frequency</tspan> <tspan x="780.50" y="1110.0" font-size="29.5" textLength="64.86" lengthAdjust="spacingAndGlyphs">(Hz)</tspan></text>
<text><tspan x="12.12" y="579.7" font-size="59.5" textLength="21.24" lengthAdjust="spacingAndGlyphs">(</tspan><tspan x="33.30" y="579.7" font-size="57.5" textLength="27.93" lengthAdjust="spacingAndGlyphs" font-weight="bold">a</tspan><tspan x="60.76" y="579.7" font-size="59.5" textLength="21.19" lengthAdjust="spacingAndGlyphs">)</tspan></text>
<text><tspan x="30.61" y="1359.6" font-size="59.5" textLength="21.36" lengthAdjust="spacingAndGlyphs">(</tspan><tspan x="51.45" y="1359.6" font-size="57.5" font-weight="bold">b</tspan><tspan x="82.14" y="1359.6" font-size="59.5" textLength="21.45" lengthAdjust="spacingAndGlyphs">)</tspan></text>
<text><tspan x="29.72" y="1745.3" font-size="59.5" textLength="21.24" lengthAdjust="spacingAndGlyphs">(</tspan><tspan x="49.85" y="1745.3" font-size="57.5" textLength="26.23" lengthAdjust="spacingAndGlyphs" font-weight="bold">c</tspan><tspan x="74.80" y="1745.3" font-size="59.5" textLength="21.84" lengthAdjust="spacingAndGlyphs">)</tspan></text>
<text><tspan x="219.45" y="1184.3" font-size="36" textLength="112.45" lengthAdjust="spacingAndGlyphs">Complx</tspan> <tspan x="342.27" y="1184.3" font-size="36" textLength="76.24" lengthAdjust="spacingAndGlyphs">envlp</tspan> <tspan x="429.37" y="1184.3" font-size="36" textLength="30.63" lengthAdjust="spacingAndGlyphs">of</tspan> <tspan x="471.15" y="1184.3" font-size="36" textLength="43.47" lengthAdjust="spacingAndGlyphs">the</tspan> <tspan x="525.67" y="1184.3" font-size="36" textLength="50.25" lengthAdjust="spacingAndGlyphs">filtr</tspan> <tspan x="585.67" y="1184.3" font-size="36" textLength="39.95" lengthAdjust="spacingAndGlyphs">sgl</tspan> <tspan x="640.01" y="1184.3" font-size="36" textLength="61.23" lengthAdjust="spacingAndGlyphs">(real</tspan> <tspan x="712.40" y="1184.3" font-size="36">part),</tspan> <tspan x="801.91" y="1184.3" font-size="36" textLength="131.54" lengthAdjust="spacingAndGlyphs">Bw=Fs/2</tspan><tspan x="933.31" y="1167.8" font-size="28.5" textLength="13.98" lengthAdjust="spacingAndGlyphs">4</tspan><tspan x="948.75" y="1184.3" font-size="36">,</tspan> <tspan x="970.40" y="1184.3" font-size="36">fc=2000Hz,</tspan> <tspan x="1151.70" y="1184.3" font-size="36">Kurt=11.4,</tspan> <tspan x="1320.19" y="1184.3" font-size="36" textLength="103.05" lengthAdjust="spacingAndGlyphs">α=.1%</tspan></text>
<text><tspan x="765.06" y="1528.2" font-size="36" textLength="62.14" lengthAdjust="spacingAndGlyphs">time</tspan> <tspan x="834.00" y="1528.2" font-size="36">(s)</tspan></text>
<text x="372.21" y="1713.9" font-size="42.3" textLength="151.00" lengthAdjust="spacingAndGlyphs" style="fill:#f00">39.14Hz</text>
<text><tspan x="437.61" y="1584.1" font-size="36" textLength="104.92" lengthAdjust="spacingAndGlyphs">Fourier</tspan> <tspan x="553.45" y="1584.1" font-size="36" textLength="141.93" lengthAdjust="spacingAndGlyphs">transform</tspan> <tspan x="705.86" y="1584.1" font-size="36" textLength="149.03" lengthAdjust="spacingAndGlyphs">magnitude</tspan> <tspan x="864.12" y="1584.1" font-size="36" textLength="31.58" lengthAdjust="spacingAndGlyphs">of</tspan> <tspan x="906.05" y="1584.1" font-size="36" textLength="43.78" lengthAdjust="spacingAndGlyphs">the</tspan> <tspan x="958.50" y="1584.1" font-size="36">squared</tspan> <tspan x="1081.44" y="1584.1" font-size="36" textLength="126.82" lengthAdjust="spacingAndGlyphs">envelope</tspan></text>
<text><tspan x="217.45" y="1594.8" font-size="36">x</tspan> <tspan x="246.50" y="1594.8" font-size="36" textLength="35.48" lengthAdjust="spacingAndGlyphs">10</tspan><tspan x="280.97" y="1566.1" font-size="23.5" textLength="19.14" lengthAdjust="spacingAndGlyphs">-5</tspan></text>
<text><tspan x="711.20" y="1927.9" font-size="36" textLength="143.27" lengthAdjust="spacingAndGlyphs">frequency</tspan> <tspan x="862.64" y="1927.9" font-size="36" textLength="64.32" lengthAdjust="spacingAndGlyphs">(Hz)</tspan></text>
</svg></body></html>
